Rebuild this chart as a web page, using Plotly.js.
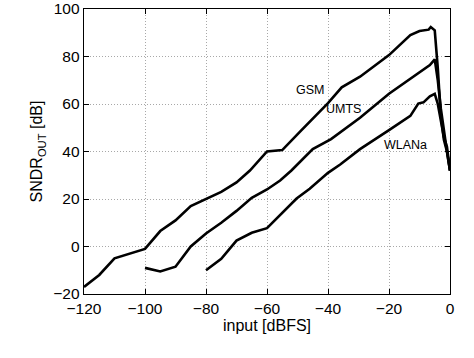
<!DOCTYPE html>
<html>
<head>
<meta charset="utf-8">
<script src="https://cdn.plot.ly/plotly-3.0.1.min.js"></script>
<style>html,body{margin:0;padding:0;background:#fff;}#chart{width:474px;height:358px;}</style>
</head>
<body>
<div id="chart"></div>
<script>
const gsmX = [-120, -115, -110, -100, -95, -90, -85, -80, -75, -70, -65.6, -60, -55, -49, -44, -40, -35.5, -29.5, -20, -13, -10, -7, -6.3, -5, -4, -3, -2, -1, 0];
const gsmY = [-17, -12, -5, -1, 6.5, 11, 17, 20, 23, 27, 32, 40, 40.6, 48.6, 55, 60.4, 67, 71.5, 80.6, 89, 90.7, 91.3, 92.4, 91, 75, 55, 45, 40, 32];

const umtsX = [-100, -95, -90, -85, -80, -75, -70, -65, -60, -55.7, -52, -45, -39, -29.5, -20, -13, -8, -6.6, -5, -4, -3, -2, -1, 0];
const umtsY = [-9, -10.5, -8.5, 0, 5.5, 10, 15, 20.5, 24, 27.8, 32, 41, 45.2, 54.2, 64.3, 70.5, 75, 76.4, 78.8, 70, 58, 48, 40, 32];

const wlanX = [-80, -75, -70, -65, -60, -55.7, -50.3, -46, -40, -36, -29.5, -20, -13, -10.4, -8.7, -6.6, -5, -4, -3, -2, -1, 0];
const wlanY = [-10, -5.2, 2.5, 5.8, 7.7, 13.2, 20.2, 24.3, 31, 34.5, 41, 49, 55, 60.2, 60.7, 63.2, 64.3, 60, 53, 46, 42, 32];

const seriesNames = ["GSM", "UMTS", "WLANa"];
const labelX = [-45.8, -35, -14.7];
const labelY = [65.7, 57.7, 42.8];

const xTicks = [-120, -100, -80, -60, -40, -20, 0];
const yTicks = [-20, 0, 20, 40, 60, 80, 100];

const lineStyle = {color: '#000', width: 2.6};
const traces = [
  {x: gsmX, y: gsmY, name: seriesNames[0]},
  {x: umtsX, y: umtsY, name: seriesNames[1]},
  {x: wlanX, y: wlanY, name: seriesNames[2]}
].map(t => Object.assign(t, {type: 'scatter', mode: 'lines', line: lineStyle, hoverinfo: 'skip'}));

const font = {family: '"Liberation Sans", Arial, Helvetica, sans-serif', color: '#000'};

const annotations = seriesNames.map((n, i) => ({
  x: labelX[i], y: labelY[i], xref: 'x', yref: 'y', text: n, showarrow: false,
  font: Object.assign({}, font, {size: 12.5})
}));

const axisCommon = {
  showline: true, linecolor: '#000', linewidth: 1.3, mirror: 'ticks',
  ticks: 'inside', ticklen: 5, tickwidth: 1, tickcolor: '#000',
  showgrid: true, gridcolor: '#a8a8a8', griddash: '1px,2px', gridwidth: 1,
  zeroline: false, tickfont: Object.assign({}, font, {size: 15.5}),
  ticklabeloverflow: 'allow'
};

const layout = {
  width: 474, height: 358,
  margin: {l: 84, r: 24, t: 9, b: 64},
  paper_bgcolor: '#fff', plot_bgcolor: '#fff',
  showlegend: false,
  font: font,
  xaxis: Object.assign({}, axisCommon, {
    range: [-120, 0], tickvals: xTicks,
    title: {text: 'input [dBFS]', font: Object.assign({}, font, {size: 16}), standoff: 0}
  }),
  yaxis: Object.assign({}, axisCommon, {
    range: [-20, 100], tickvals: yTicks, ticklabelstandoff: 0,
    title: {text: 'SNDR<sub>OUT</sub> [dB]', font: Object.assign({}, font, {size: 16}), standoff: 6}
  }),
  annotations: annotations
};

Plotly.newPlot('chart', traces, layout, {displayModeBar: false, staticPlot: true});
</script>
</body>
</html>
